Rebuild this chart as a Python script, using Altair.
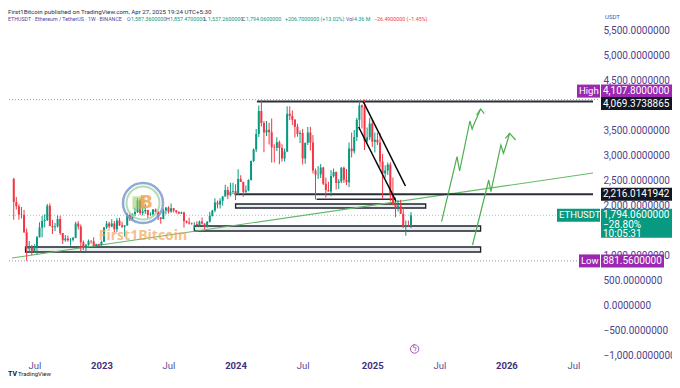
import altair as alt
import pandas as pd

# ---------------- weekly candles, ETHUSDT (Binance, 1W) ----------------
opens_2022 = [2520, 2060, 1975, 1810, 1800, 1455, 1125, 1140, 1075, 1160, 1355, 1550, 1680, 1700, 1985, 1580, 1555,
              1570, 1720, 1440, 1295, 1330, 1295, 1305, 1345, 1630, 1570, 1255, 1140, 1195, 1280, 1275, 1185, 1220]
highs_2022 = [2545, 2160, 2015, 1960, 1900, 1530, 1280, 1200, 1215, 1380, 1655, 1785, 1815, 2020, 2030, 1700, 1640,
              1790, 1785, 1440, 1400, 1390, 1340, 1360, 1665, 1680, 1610, 1290, 1220, 1310, 1300, 1355, 1225, 1225]
lows_2022 = [1705, 1910, 1705, 1730, 1440, 881.56, 1050, 998, 1070, 1010, 1350, 1355, 1550, 1680, 1575, 1420, 1480,
             1550, 1400, 1220, 1265, 1265, 1190, 1270, 1335, 1510, 1075, 1100, 1075, 1185, 1225, 1155, 1160, 1185]
closes_2022 = [2060, 1975, 1810, 1800, 1455, 1125, 1140, 1075, 1160, 1355, 1550, 1680, 1700, 1985, 1580, 1555, 1570,
               1720, 1440, 1295, 1330, 1295, 1305, 1345, 1630, 1570, 1255, 1140, 1195, 1280, 1275, 1185, 1220, 1195]

opens_2023 = [1195, 1265, 1550, 1630, 1570, 1630, 1515, 1690, 1595, 1565, 1590, 1800, 1715, 1820, 1860, 2090, 1840,
              1870, 1900, 1800, 1810, 1910, 1860, 1750, 1720, 1890, 1950, 1865, 1935, 1890, 1860, 1830, 1850, 1680,
              1650, 1630, 1620, 1620, 1595, 1670, 1630, 1560, 1665, 1780, 1890, 2050, 2010, 2085, 2170, 2300, 2195, 2265]
highs_2023 = [1290, 1560, 1680, 1665, 1715, 1680, 1740, 1745, 1665, 1600, 1840, 1830, 1835, 1945, 2140, 2125, 1970,
              2020, 1905, 1855, 1920, 1930, 1880, 1760, 1930, 1955, 1975, 2030, 1940, 1900, 1875, 1870, 1865, 1690,
              1745, 1650, 1655, 1675, 1690, 1750, 1635, 1680, 1865, 1905, 2135, 2090, 2135, 2180, 2405, 2365, 2445, 2445]
lows_2023 = [1190, 1260, 1520, 1530, 1555, 1450, 1460, 1580, 1540, 1370, 1590, 1680, 1685, 1780, 1840, 1800, 1790,
             1820, 1740, 1785, 1775, 1845, 1700, 1625, 1715, 1815, 1830, 1845, 1850, 1825, 1815, 1820, 1550, 1630,
             1610, 1605, 1530, 1575, 1575, 1610, 1520, 1545, 1650, 1770, 1855, 1930, 1930, 1990, 2170, 2120, 2170, 2220]
closes_2023 = [1265, 1550, 1630, 1570, 1630, 1515, 1690, 1595, 1565, 1590, 1800, 1715, 1820, 1860, 2090, 1840, 1870,
               1900, 1800, 1810, 1910, 1860, 1750, 1720, 1890, 1950, 1865, 1935, 1890, 1860, 1830, 1850, 1680, 1650,
               1630, 1620, 1620, 1595, 1670, 1630, 1560, 1665, 1780, 1890, 2050, 2010, 2085, 2170, 2300, 2195, 2265, 2280]

opens_2024 = [2280, 2220, 2520, 2460, 2265, 2290, 2500, 2880, 3110, 3420, 3880, 3640, 3450, 3505, 3455, 3155, 3145,
              3255, 3140, 2930, 3070, 3825, 3780, 3705, 3565, 3420, 3440, 2930, 3245, 3450, 3250, 2690, 2610, 2615,
              2750, 2425, 2300, 2270, 2580, 2660, 2440, 2470, 2745, 2505, 2455, 3130, 3075, 3360, 3705, 3990, 3955,
              3280, 3355]
highs_2024 = [2415, 2715, 2595, 2470, 2390, 2515, 2890, 3130, 3520, 3990, 4095, 3680, 3680, 3645, 3730, 3215, 3355,
              3290, 3215, 3130, 3975, 3975, 3890, 3720, 3625, 3490, 3520, 3245, 3560, 3565, 3400, 2730, 2780, 2820,
              2765, 2550, 2465, 2700, 2730, 2670, 2520, 2760, 2770, 2720, 3250, 3450, 3500, 3740, 4090, 4010, 4107.8,
              3550, 3745]
lows_2024 = [2100, 2210, 2460, 2165, 2225, 2275, 2490, 2860, 3060, 3360, 3570, 3055, 3380, 3210, 2850, 2850, 3080,
             2815, 2865, 2870, 3060, 3700, 3600, 3350, 3365, 3240, 2810, 2825, 3200, 3090, 2630, 2110, 2520, 2540,
             2400, 2150, 2270, 2175, 2550, 2310, 2320, 2435, 2440, 2400, 2355, 2950, 3030, 3280, 3500, 3530, 3100,
             3250, 3300]
closes_2024 = [2220, 2520, 2460, 2265, 2290, 2500, 2880, 3110, 3420, 3880, 3640, 3450, 3505, 3455, 3155, 3145, 3255,
               3140, 2930, 3070, 3825, 3780, 3705, 3565, 3420, 3440, 2930, 3245, 3450, 3250, 2690, 2610, 2615, 2750,
               2425, 2300, 2270, 2580, 2660, 2440, 2470, 2745, 2505, 2455, 3130, 3075, 3360, 3705, 3990, 3955, 3280,
               3355, 3630]

opens_2025 = [3630, 3265, 3305, 3250, 2870, 2630, 2690, 2810, 2215, 2020, 1935, 1985, 1825, 1580, 1595, 1587.36]
highs_2025 = [3700, 3450, 3450, 3440, 3020, 2795, 2850, 2855, 2550, 2150, 2100, 2105, 1955, 1690, 1690, 1857.47]
lows_2025 = [3160, 3050, 3200, 2750, 2125, 2545, 2600, 2075, 1995, 1755, 1870, 1820, 1540, 1385, 1565, 1537.26]
closes_2025 = [3265, 3305, 3250, 2870, 2630, 2690, 2810, 2215, 2020, 1935, 1985, 1825, 1580, 1595, 1587.36, 1794.06]

opens = opens_2022 + opens_2023 + opens_2024 + opens_2025
highs = highs_2022 + highs_2023 + highs_2024 + highs_2025
lows = lows_2022 + lows_2023 + lows_2024 + lows_2025
closes = closes_2022 + closes_2023 + closes_2024 + closes_2025
first_week = "2022-05-09"
week_dates = pd.date_range(first_week, periods=len(closes), freq="7D").strftime("%Y-%m-%d")

# ---------------- drawings ----------------
level_prices = [4069.3738865, 2216.0141942]
level_starts = ["2024-02-28", "2023-12-29"]
level_ends = ["2026-08-28", "2026-08-28"]

minor_level_prices = [2115]
minor_level_starts = ["2024-08-08"]
minor_level_ends = ["2025-03-08"]

zone_tops = [2020, 1580, 1160]
zone_bottoms = [1940, 1480, 1060]
zone_starts = ["2024-01-01", "2023-09-11", "2022-06-10"]
zone_ends = ["2025-05-31", "2025-10-27", "2025-10-27"]

trend_dates = ["2022-05-04", "2026-08-28"]
trend_prices = [940, 2640]

channel_ids = ["upper", "upper", "lower", "lower"]
channel_dates = ["2024-12-13", "2025-04-06", "2024-11-30", "2025-03-11"]
channel_prices = [4060, 2380, 3560, 2080]

proj_ids = ["a"] * 7 + ["a_head"] * 3 + ["b"] * 7 + ["b_head"] * 3
proj_dates = ["2025-07-13", "2025-08-24", "2025-08-31", "2025-09-28", "2025-10-04", "2025-10-09", "2025-10-27",
              "2025-10-16", "2025-10-27", "2025-11-06",
              "2025-10-05", "2025-11-18", "2025-11-24", "2025-12-21", "2025-12-28", "2026-01-02", "2026-01-14",
              "2026-01-02", "2026-01-14", "2026-01-30"]
proj_prices = [1666, 2966, 2680, 3680, 3520, 3614, 3920,
               3800, 3920, 3826,
               1200, 2500, 2266, 3200, 3034, 3146, 3434,
               3334, 3434, 3300]

high_low_prices = [4107.8, 881.56]
last_price = [1794.06]
event_dates = ["2025-05-01"]
event_prices = [-880]

# first weekly bar of each labelled month
x_tick_dates = [(2022, 7, 4), (2023, 1, 2), (2023, 7, 3), (2024, 1, 1), (2024, 7, 1), (2025, 1, 6), (2025, 7, 7),
                (2026, 1, 5), (2026, 7, 6)]
# 4,000 and 1,500 are hidden behind the price tags in the reference
y_tick_values = [-1000, -500, 0, 500, 1000, 2000, 2500, 3000, 3500, 4500, 5000, 5500]

# ---------------- styles ----------------
FONT = "Roboto"
AXIS_TXT = "#4d3f8c"
UP = "#089981"
DOWN = "#f23645"
PURPLE = "#9c27b0"
BLACK = "#131722"
TEAL = "#089981"
GREEN = "#4caf50"
LINE_DARK = "#2a2e39"

x_scale = alt.Scale(type="utc", domain=[alt.DateTime(year=2022, month=5, date=7, utc=True),
                                        alt.DateTime(year=2026, month=8, date=28, utc=True)])
x_axis = alt.Axis(
    values=[alt.DateTime(year=y, month=m, date=d, utc=True) for y, m, d in x_tick_dates],
    labelExpr="utcmonth(datum.value) < 6 ? utcFormat(datum.value, '%Y') : utcFormat(datum.value, '%b')",
    labelFontWeight={"condition": {"test": "utcmonth(datum.value) < 6", "value": "bold"}, "value": "normal"},
    labelColor={"condition": {"test": "utcmonth(datum.value) < 6", "value": "#3f2f7e"}, "value": "#5a4e98"},
    labelFont=FONT, labelFontSize=9.5, labelPadding=4, ticks=False, domain=False, grid=False,
    title=None, labelOverlap=False, labelFlush=False)
y_scale = alt.Scale(domain=[-1020, 5660], nice=False, zero=False)
y_axis = alt.Axis(orient="right", values=y_tick_values, format=",.7f", labelFont=FONT, labelFontSize=10,
                  labelColor=AXIS_TXT, labelPadding=5, ticks=False, domain=False, grid=False, title=None,
                  labelOverlap=False, labelAlign="left", labelBaseline="middle")


def X(field):
    return alt.X(f"{field}:T", scale=x_scale, axis=x_axis)


def Y(field):
    return alt.Y(f"{field}:Q", scale=y_scale, axis=y_axis)


one = pd.DataFrame({"k": [0]})

candles = pd.DataFrame(dict(date=week_dates, open=opens, high=highs, low=lows, close=closes))
candle_color = alt.condition("datum.close >= datum.open", alt.value(UP), alt.value(DOWN))

layers = []

# dotted high / low / last price lines
layers.append(alt.Chart(pd.DataFrame({"price": high_low_prices})).mark_rule(
    color="#9598a1", strokeDash=[1, 2], strokeWidth=1).encode(y=Y("price")))
layers.append(alt.Chart(pd.DataFrame({"price": last_price})).mark_rule(
    color=TEAL, strokeDash=[1, 2], strokeWidth=1, opacity=0.45).encode(y=Y("price")))

# zones
zones = pd.DataFrame(dict(top=zone_tops, bottom=zone_bottoms, start=zone_starts, end=zone_ends))
layers.append(alt.Chart(zones).mark_rect(fill="#e9ecef", stroke="#1e222d", strokeWidth=1.3, clip=True).encode(
    x=X("start"), x2="end", y=Y("top"), y2="bottom"))

# trend line
trend = pd.DataFrame(dict(date=trend_dates, price=trend_prices))
layers.append(alt.Chart(trend).mark_line(color="#66bb6a", strokeWidth=1.1, clip=True).encode(
    x=X("date"), y=Y("price")))

# horizontal levels
levels = pd.DataFrame(dict(price=level_prices, start=level_starts, end=level_ends))
layers.append(alt.Chart(levels).mark_rule(color=LINE_DARK, strokeWidth=2, clip=True).encode(
    x=X("start"), x2="end", y=Y("price")))
minor = pd.DataFrame(dict(price=minor_level_prices, start=minor_level_starts, end=minor_level_ends))
layers.append(alt.Chart(minor).mark_rule(color=LINE_DARK, strokeWidth=1.3, clip=True).encode(
    x=X("start"), x2="end", y=Y("price")))

# candles
layers.append(alt.Chart(candles).mark_rule(strokeWidth=1, clip=True).encode(
    x=X("date"), y=Y("low"), y2="high", color=candle_color))
layers.append(alt.Chart(candles).mark_bar(size=2, clip=True).encode(
    x=X("date"), y=Y("open"), y2="close", color=candle_color))

# descending channel
channel = pd.DataFrame(dict(line=channel_ids, date=channel_dates, price=channel_prices))
layers.append(alt.Chart(channel).mark_line(color="#000000", strokeWidth=1.5).encode(
    x=X("date"), y=Y("price"), detail="line:N"))

# projected paths
proj = pd.DataFrame(dict(path=proj_ids, date=proj_dates, price=proj_prices, step=list(range(len(proj_ids)))))
layers.append(alt.Chart(proj).mark_line(color=GREEN, strokeWidth=1.2).encode(
    x=X("date"), y=Y("price"), detail="path:N", order="step:Q"))

# event marker
events = pd.DataFrame(dict(date=event_dates, price=event_prices))
layers.append(alt.Chart(events).mark_point(shape="circle", size=70, stroke=PURPLE, strokeWidth=1,
                                           filled=False, opacity=0.8).encode(x=X("date"), y=Y("price")))
layers.append(alt.Chart(events).mark_text(text="ϟ", color=PURPLE, fontSize=8, font="DejaVu Sans",
                                          opacity=0.8).encode(x=X("date"), y=Y("price")))

# watermark
wm = alt.Chart(one)
layers.append(wm.mark_point(shape="circle", size=1600, stroke="#7e9bd1", strokeWidth=2.5, filled=False,
                            opacity=0.85).encode(x=alt.value(135), y=alt.value(181)))
layers.append(wm.mark_point(shape="circle", size=1090, stroke="#a5d6a7", strokeWidth=2, filled=False,
                            opacity=0.85).encode(x=alt.value(135), y=alt.value(181)))
layers.append(wm.mark_point(shape="square", size=170, fill="#9ccc65", filled=True, strokeWidth=0,
                            opacity=0.6).encode(x=alt.value(131), y=alt.value(181)))
layers.append(wm.mark_text(text="B", color="#f5a04a", fontSize=18, fontWeight="bold", font="DejaVu Sans",
                           opacity=0.8).encode(x=alt.value(138), y=alt.value(181)))
layers.append(wm.mark_text(text="First1Bitcoin", color="#f5a65b", fontSize=14, fontWeight="bold", font="Open Sans",
                           opacity=0.7).encode(x=alt.value(135), y=alt.value(214)))


# right-hand price tags
def tag(price, label, color, x0, x1, dy=0.0, extra=0.0, lines=(), size=10):
    base = alt.Chart(pd.DataFrame({"price": [price]}))
    out = [base.mark_rect(color=color, yOffset=dy - 6.5, y2Offset=dy + 6.5 + extra).encode(
        x=alt.value(x0), x2=alt.value(x1), y=Y("price"), y2="price")]
    for i, t in enumerate((label,) + tuple(lines)):
        out.append(base.mark_text(align="left", baseline="middle", color="white", font=FONT, fontSize=size,
                                  dy=dy + i * 9.5).encode(x=alt.value(x0 + 2), y=Y("price"), text=alt.value(t)))
    return out


layers += tag(high_low_prices[0], "High", PURPLE, 569, 592, dy=-8.5, size=9.5)
layers += tag(high_low_prices[0], "4,107.8000000", PURPLE, 593, 664, dy=-8.5)
layers += tag(level_prices[0], "4,069.3738865", BLACK, 593, 664, dy=2)
layers += tag(level_prices[1], "2,216.0141942", BLACK, 593, 664)
layers += tag(last_price[0], "ETHUSDT", TEAL, 549, 592, size=9.5)
layers += tag(last_price[0], "1,794.0600000", TEAL, 593, 664, extra=16, lines=("−28.80%", "10:05:31"))
layers += tag(high_low_prices[1], "Low", PURPLE, 571, 592, size=9.5)
layers += tag(high_low_prices[1], "881.5600000", PURPLE, 593, 656)

# header / footer texts
hd = alt.Chart(one)


def htext(txt, x, y, color, size=5.3, weight="normal"):
    return hd.mark_text(text=txt, align="left", baseline="middle", color=color, font=FONT, fontSize=size,
                        fontWeight=weight).encode(x=alt.value(x), y=alt.value(y))


layers.append(htext("First1Bitcoin published on TradingView.com, Apr 27, 2025 19:24 UTC+5:30", 0, -10.5,
                    "#2a2e39", 6.2))
layers.append(htext("ETHUSDT · Ethereum / TetherUS · 1W · BINANCE", 0, -3, "#5b3f9a"))
for lab, val, x in [("O", "1,587.3600000", 119), ("H", "1,857.4700000", 158), ("L", "1,537.2600000", 196),
                    ("C", "1,794.0600000", 234)]:
    layers.append(htext(lab, x, -3, "#5b3f9a"))
    layers.append(htext(val, x + 4, -3, TEAL))
layers.append(htext("+206.7000000 (+13.02%)", 277, -3, TEAL))
layers.append(htext("Vol", 338, -3, "#5b3f9a"))
layers.append(htext("4.36 M", 346, -3, TEAL))
layers.append(htext("−26.4900000 (−1.45%)", 366, -3, DOWN))
layers.append(htext("USDT", 597, -5, "#5a4e98", 6))
layers.append(htext("TV", 0, 352, "#131722", 7, "bold"))
layers.append(htext("TradingView", 10, 352, "#131722", 6))

chart = alt.layer(*layers).properties(
    width=590, height=334,
    autosize=alt.AutoSizeParams(type="none"),
    padding={"left": 0, "top": 14, "right": 74, "bottom": 24},
    background="white",
).configure_view(strokeWidth=0)

chart.save("out.html", embed_options={"renderer": "svg", "actions": False})
